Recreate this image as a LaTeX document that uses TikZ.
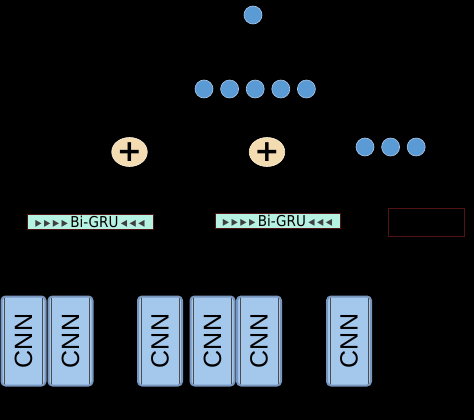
\documentclass[tikz,border=0pt]{standalone}
\usepackage{fontspec}
\setmainfont{DejaVu Sans}
\newfontfamily\cnnfont{Liberation Sans}
\newfontfamily\grufont[FakeStretch=0.9]{DejaVu Sans}
\usetikzlibrary{
	positioning,
	shapes.geometric,
}
\definecolor{unitblue}{RGB}{91,155,213}
\definecolor{unitrim}{RGB}{170,200,235}
\definecolor{wheatfill}{RGB}{243,220,178}
\definecolor{wheatrim}{RGB}{252,238,214}
\definecolor{grufill}{RGB}{182,242,226}
\definecolor{grurim}{RGB}{80,20,20}
\definecolor{cnnfill}{RGB}{164,199,236}
\definecolor{cnnrim}{RGB}{120,150,190}
\tikzset{neuron/.style={
		% The shape:
		circle,
		% The size:
		minimum size=18pt,inner sep=0pt,
		% The rest
		fill=unitblue,draw=unitrim,semithick,
}}
\tikzset{addop/.style={
		ellipse,
		minimum width=33pt,minimum height=29pt,inner sep=0pt,
		fill=wheatfill,draw=wheatrim,semithick,
		font=\fontsize{30}{30}\bfseries,
}}
\tikzset{grubox/.style={
		% The shape:
		rectangle,
		% The size:
		minimum width=126pt,minimum height=15pt,inner sep=0pt,
		% The rest
		fill=grufill,draw=grurim,thick,
		font=\grufont\fontsize{15}{14}\selectfont,
}}
\tikzset{cnnbox/.style={
		rectangle,rounded corners=4pt,
		% rotated: width runs up the page
		minimum width=89pt,minimum height=44pt,inner sep=0pt,
		fill=cnnfill,draw=cnnrim,line width=2pt,
		font=\cnnfont\fontsize{25}{25}\selectfont,
		rotate=90,
		path picture={\draw[black!70,sharp corners,thin]
			([shift={(3pt,-3pt)}]path picture bounding box.north west) rectangle
			([shift={(-3pt,3pt)}]path picture bounding box.south east);},
}}
% arrow marks of the two directions
\newcommand{\fw}{▸\hspace{2.4pt}}
\newcommand{\bw}{\hspace{2.4pt}◂}
\newcommand{\gru}{{\color{black!75}\fontsize{14}{14}\selectfont\fw\fw\fw\fw}Bi-GRU{\color{black!75}\fontsize{14}{14}\selectfont\bw\bw\bw}}

\begin{document}
\begin{tikzpicture}[x=1pt,y=-1pt]
	\fill[black] (0,0) rectangle (474,420);
	\useasboundingbox (0,0) rectangle (474,420);
	% output
	\node [neuron] (out) at (253,15) {};
	% hidden layer
	\node [neuron] (h1) at (204,89) {};
	\node [neuron, right=7pt of h1] (h2) {};
	\node [neuron, right=7pt of h2] (h3) {};
	\node [neuron, right=7pt of h3] (h4) {};
	\node [neuron, right=7pt of h4] (h5) {};
	% merge
	\node [addop] (add1) at (129.5,152) {+};
	\node [addop] (add2) at (267,152) {+};
	\node [neuron] (f1) at (365,147) {};
	\node [neuron, right=7pt of f1] (f2) {};
	\node [neuron, right=7pt of f2] (f3) {};
	% encoders
	\node [grubox] (gru1) at (90,221.5) {\gru};
	\node [grubox, minimum width=125pt] (gru2) at (277.5,220.5) {\gru};
	\node [draw=grurim, thick, minimum width=76pt, minimum height=28pt] (feat) at (426,222) {};
	% CNN
	\node [cnnbox] (c1) at (23.5,341) {CNN};
	\node [cnnbox] (c2) at (70.5,341) {CNN};
	\node [cnnbox] (c3) at (160,341) {CNN};
	\node [cnnbox] (c4) at (212.5,341) {CNN};
	\node [cnnbox] (c5) at (259,341) {CNN};
	\node [cnnbox] (c6) at (349,341) {CNN};
\end{tikzpicture}
\end{document}
